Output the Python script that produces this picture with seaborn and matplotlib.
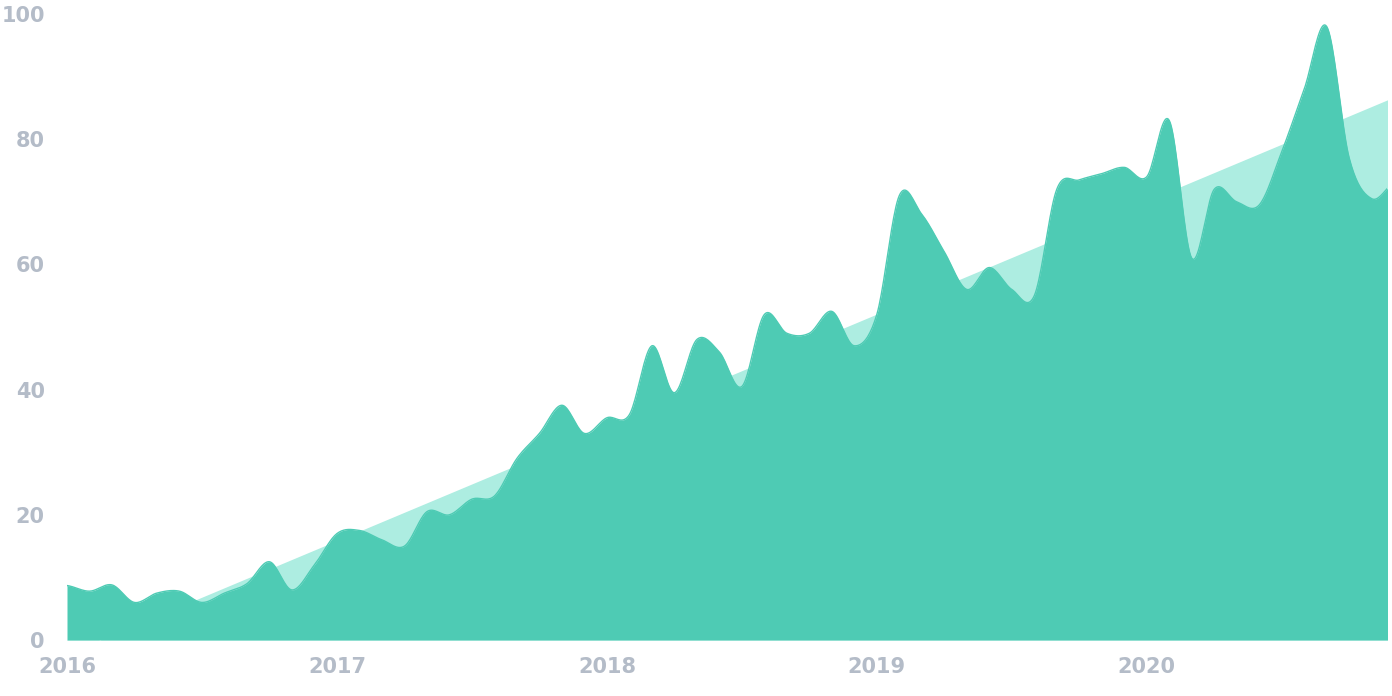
import matplotlib
matplotlib.use("Agg")
import matplotlib.pyplot as plt
import numpy as np
import pandas as pd
import seaborn as sns

# monthly values, Jan 2016 .. Dec 2020
values = [8.7, 7.8, 8.8, 6.0, 7.5, 7.8, 6.0, 7.5, 9.0, 12.5, 8.0, 12.0,
          17.0, 17.5, 16.0, 15.0, 20.5, 20.0, 22.5, 23.0, 29.0, 33.0, 37.5, 33.0,
          35.5, 36.0, 47.0, 39.5, 48.0, 46.0, 40.5, 52.0, 49.0, 49.0, 52.5, 47.0,
          52.0, 71.0, 68.0, 62.0, 56.0, 59.5, 56.0, 55.0, 72.0, 73.5, 74.5, 75.5,
          74.0, 83.0, 61.0, 72.0, 70.0, 69.5, 78.0, 88.0, 98.0, 77.0, 70.5, 73.0]
trend_years = [2016.0, 2020.92]
trend_values = [-2.2, 86.8]
year_ticks = [2016, 2017, 2018, 2019, 2020]
y_ticks = [0, 20, 40, 60, 80, 100]

df = pd.DataFrame({"year": 2016 + np.arange(len(values)) / 12, "value": values})


def catmull_rom(x, y, n=20):
    x = np.asarray(x, float)
    y = np.asarray(y, float)
    px = np.concatenate([[2 * x[0] - x[1]], x, [2 * x[-1] - x[-2]]])
    py = np.concatenate([[y[0]], y, [y[-1]]])
    xs, ys = [], []
    t = np.linspace(0, 1, n, endpoint=False)
    for i in range(1, len(px) - 2):
        p0, p1, p2, p3 = py[i - 1:i + 3]
        xs.append(px[i] + t * (px[i + 1] - px[i]))
        ys.append(0.5 * (2 * p1 + (-p0 + p2) * t + (2 * p0 - 5 * p1 + 4 * p2 - p3) * t ** 2
                         + (-p0 + 3 * p1 - 3 * p2 + p3) * t ** 3))
    xs.append([x[-1]])
    ys.append([y[-1]])
    return np.concatenate(xs), np.concatenate(ys)


sns.set_style("white")
fig = plt.figure(figsize=(13.92, 6.96), dpi=100)
ax = fig.add_axes([67 / 1392, 56 / 696, 1320 / 1392, 626 / 696])

ax.fill_between(trend_years, trend_values, 0, color="#adede1", lw=0)
sx, sy = catmull_rom(df["year"], df["value"])
ax.fill_between(sx, sy, 0, color="#4ecbb4", lw=0)
sns.lineplot(x=sx, y=sy, ax=ax, color="#4ecbb4", lw=1)

ax.set_xlim(2016, 2020.89)
ax.set_ylim(0, 100)
ax.set_xticks(year_ticks)
ax.set_yticks(y_ticks)
ax.set_xticklabels([str(y) for y in year_ticks])
ax.tick_params(length=0, labelsize=15, labelcolor="#b4bcc8", pad=12)
for lab in ax.get_xticklabels() + ax.get_yticklabels():
    lab.set_fontweight("bold")
ax.tick_params(axis="y", pad=16)
sns.despine(ax=ax, left=True, bottom=True)
ax.set_xlabel("")
ax.set_ylabel("")

fig.savefig("out.png", dpi=100)
